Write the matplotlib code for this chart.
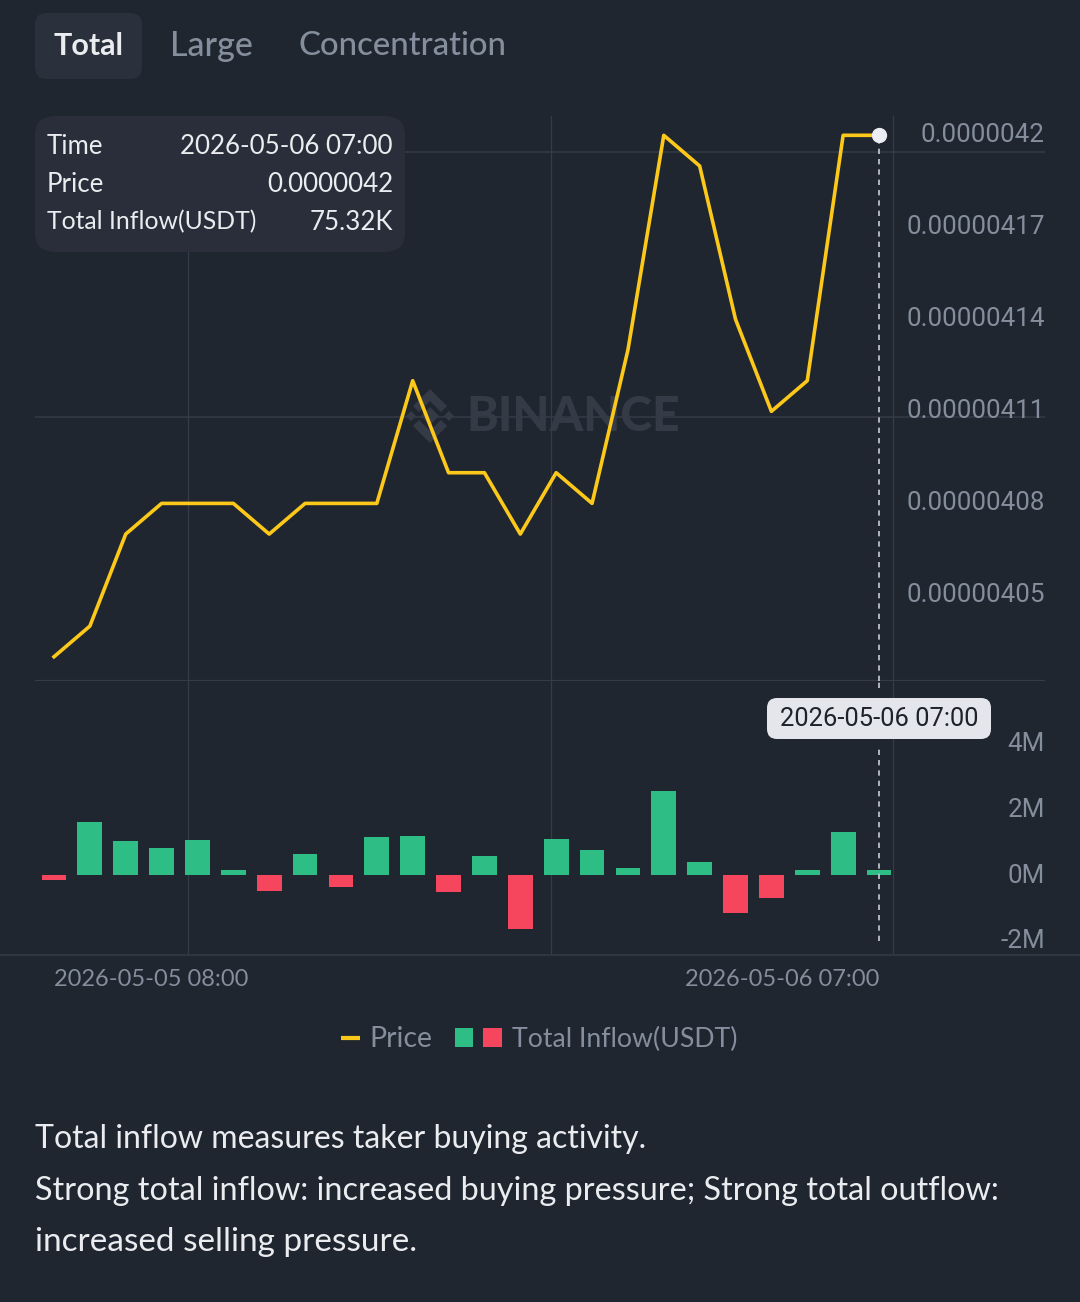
import matplotlib
matplotlib.use('Agg')
import matplotlib.pyplot as plt
from matplotlib.patches import FancyBboxPatch, Polygon, Rectangle
from matplotlib.transforms import ScaledTranslation

# chart data, hourly from 2026-05-05 08:00 to 2026-05-06 07:00
hours = list(range(24))
price = [0.00000403, 0.00000404, 0.00000407, 0.00000408, 0.00000408, 0.00000408,
         0.00000407, 0.00000408, 0.00000408, 0.00000408, 0.00000412, 0.00000409,
         0.00000409, 0.00000407, 0.00000409, 0.00000408, 0.00000413, 0.0000042,
         0.00000419, 0.00000414, 0.00000411, 0.00000412, 0.0000042, 0.0000042]
inflow = [-0.14, 1.62, 1.04, 0.81, 1.06, 0.15, -0.47, 0.65, -0.37, 1.16, 1.2, -0.5,
          0.59, -1.64, 1.1, 0.77, 0.2, 2.56, 0.41, -1.16, -0.71, 0.15, 1.31, 0.15]
price_ticks = [0.0000042, 0.00000417, 0.00000414, 0.00000411, 0.00000408, 0.00000405]
price_labels = ['0.0000042', '0.00000417', '0.00000414', '0.00000411', '0.00000408', '0.00000405']
inflow_ticks = [4, 2, 0, -2]
inflow_labels = ['4M', '2M', '0M', '-2M']
time_labels = ['2026-05-05 08:00', '2026-05-06 07:00']
tabs = ['Total', 'Large', 'Concentration']
tip_rows = [('Time', '2026-05-06 07:00'), ('Price', '0.0000042'), ('Total Inflow(USDT)', '75.32K')]
notes = ['Total inflow measures taker buying activity.',
         'Strong total inflow: increased buying pressure; Strong total outflow:',
         'increased selling pressure.']

BG = '#1f2630'
GRID = '#363c47'
GREY = '#848e9c'
LIGHT = '#eaecef'
DASH = '#c9cdd3'
YELLOW = '#fcc819'
GREEN = '#2ebd85'
RED = '#f6465d'
W, H = 1080, 1302
TEXT_FONT = ['Lato', 'DejaVu Sans']
AXIS_FONT = ['Roboto', 'DejaVu Sans']

fig = plt.figure(figsize=(W / 100, H / 100), dpi=100, facecolor=BG)


def px_axes(left, top, right, bottom, z):
    a = fig.add_axes([left / W, 1 - bottom / H, (right - left) / W, (bottom - top) / H], zorder=z)
    a.patch.set_alpha(0)
    return a


# overlays in pixel coordinates, one under the chart and one over it
under = px_axes(0, 0, W, H, 0)
over = px_axes(0, 0, W, H, 5)
for a in (under, over):
    a.set_xlim(0, W)
    a.set_ylim(H, 0)
    a.axis('off')

ax_price = px_axes(35, 116, 1045, 681, 2)
ax_bar = px_axes(35, 681, 1045, 954, 2)

x_left = -19 / 35.87
x_right = 991 / 35.87
grid_x = [(188 - 54) / 35.87, (551 - 54) / 35.87, (893 - 54) / 35.87]

for a in (ax_price, ax_bar):
    a.set_xlim(x_left, x_right)
    for s in a.spines.values():
        s.set_visible(False)
    for g in grid_x:
        a.axvline(g, color=GRID, lw=0.9, zorder=1)
    a.yaxis.tick_right()
    a.tick_params(axis='both', length=0, pad=0)

# price panel
ax_price.set_ylim(0.0000040221, 0.00000420629)
ax_price.axhline(0.00000419455, color=GRID, lw=1.1, zorder=1)
ax_price.axhline(0.00000410817, color=GRID, lw=1.1, zorder=1)
ax_price.axhline(0.0000040221, color=GRID, lw=1.6, zorder=1)
ax_price.set_xticks([])
ax_price.set_yticks(price_ticks)
ax_price.set_yticklabels(price_labels, family=AXIS_FONT, fontsize=18.7, color=GREY, ha='right')
ax_price.vlines(hours[-1], ax_price.get_ylim()[0], price[-1], color=DASH, lw=1.2,
                linestyles=(0, (3.2, 3)), zorder=2)
ax_price.plot(hours, price, color=YELLOW, lw=2.6, solid_joinstyle='round', zorder=3)
ax_price.plot(hours[-1], price[-1], 'o', ms=10, mfc='#eceef3', mec='#eceef3', zorder=4)

# inflow panel
ax_bar.set_ylim(-2.4, 5.9)
ax_bar.bar(hours, inflow, width=0.69, color=[GREEN if v >= 0 else RED for v in inflow], zorder=3)
# crosshair stops short of the time label
ax_bar.vlines(hours[-1], -2.0, 3.83, color=DASH, lw=1.2, linestyles=(0, (3.2, 3)), zorder=4)
ax_bar.vlines(hours[-1], 5.7, ax_bar.get_ylim()[1], color=DASH, lw=1.2, linestyles=(0, (3.2, 3)), zorder=4)
ax_bar.set_yticks(inflow_ticks)
ax_bar.set_yticklabels(inflow_labels, family=AXIS_FONT, fontsize=18.7, color=GREY, ha='right')
ax_bar.set_xticks([hours[0], hours[-1]])
ax_bar.set_xticklabels(time_labels, family=TEXT_FONT, fontsize=17, color=GREY)
ax_bar.tick_params(axis='x', pad=11)
ax_bar.get_xticklabels()[0].set_ha('left')
ax_bar.get_xticklabels()[1].set_ha('right')

# tick labels sit a little above their value
lift = ScaledTranslation(0, 2.5 / 100, fig.dpi_scale_trans)
for t in ax_price.get_yticklabels():
    t.set_transform(t.get_transform() + lift)
lift_bar = ScaledTranslation(0, 2 / 100, fig.dpi_scale_trans)
for t in ax_bar.get_yticklabels():
    t.set_transform(t.get_transform() + lift_bar)

# full width rule under the chart
under.plot([0, W], [954.5, 954.5], color=GRID, lw=1.1)

# watermark
under.text(466, 417, 'BINANCE', family=TEXT_FONT, fontsize=34.7, fontweight='black',
           color='#343a46', ha='left', va='center')
cx, cy = 430, 416
logo = [[(0, -9), (9, 0), (0, 9), (-9, 0)],
        [(-24, 0), (-19, -5), (-14, 0), (-19, 5)],
        [(24, 0), (19, -5), (14, 0), (19, 5)],
        [(0, -27), (17, -10), (11, -4), (0, -15), (-11, -4), (-17, -10)],
        [(0, 27), (17, 10), (11, 4), (0, 15), (-11, 4), (-17, 10)]]
for shape in logo:
    under.add_patch(Polygon([(cx + p[0], cy + p[1]) for p in shape], closed=True, fc='#343a46', ec='none'))

# tabs
over.add_patch(FancyBboxPatch((35, 13), 107, 66, boxstyle='round,pad=0,rounding_size=12',
                              fc='#2a303c', ec='none'))
for name, x, col, size in zip(tabs, [89, 211, 403], [LIGHT, GREY, GREY], [22, 24.5, 23.7]):
    over.text(x, 46, name, family=TEXT_FONT, fontsize=size, fontweight='bold' if name == 'Total' else 'medium',
              color=col, ha='center', va='center')

# tooltip
over.add_patch(FancyBboxPatch((35, 116), 370, 136, boxstyle='round,pad=0,rounding_size=20',
                              fc='#2a2f3b', ec='none', alpha=0.93))
for (k, v), y, size in zip(tip_rows, [147, 184, 222], [18.6, 18.6, 17.8]):
    over.text(47, y, k, family=TEXT_FONT, fontsize=size, color=LIGHT, ha='left', va='center')
    over.text(393, y, v, family=TEXT_FONT, fontsize=18.6, color=LIGHT, ha='right', va='center')

# time label on the crosshair
over.add_patch(FancyBboxPatch((767, 698), 224, 41, boxstyle='round,pad=0,rounding_size=10',
                              fc='#e4e6eb', ec='none'))
over.text(879, 719, time_labels[1], family=AXIS_FONT, fontsize=18.4, color='#1e2329', ha='center', va='center')

# legend
over.plot([341, 360], [1037.5, 1037.5], color=YELLOW, lw=3, solid_capstyle='butt')
over.text(369, 1039, 'Price', family=TEXT_FONT, fontsize=20.5, color=GREY, ha='left', va='center')
over.add_patch(Rectangle((455, 1028), 18, 19, fc=GREEN, ec='none'))
over.add_patch(Rectangle((483, 1028), 19, 19, fc=RED, ec='none'))
over.text(512, 1039, 'Total Inflow(USDT)', family=TEXT_FONT, fontsize=19.2, color=GREY, ha='left', va='center')

# description
for line, y, size in zip(notes, [1139, 1191, 1242], [23, 23.3, 24]):
    over.text(35, y, line, family=TEXT_FONT, fontsize=size, color=LIGHT, ha='left', va='center')

fig.savefig('out.png', dpi=100, facecolor=BG)
